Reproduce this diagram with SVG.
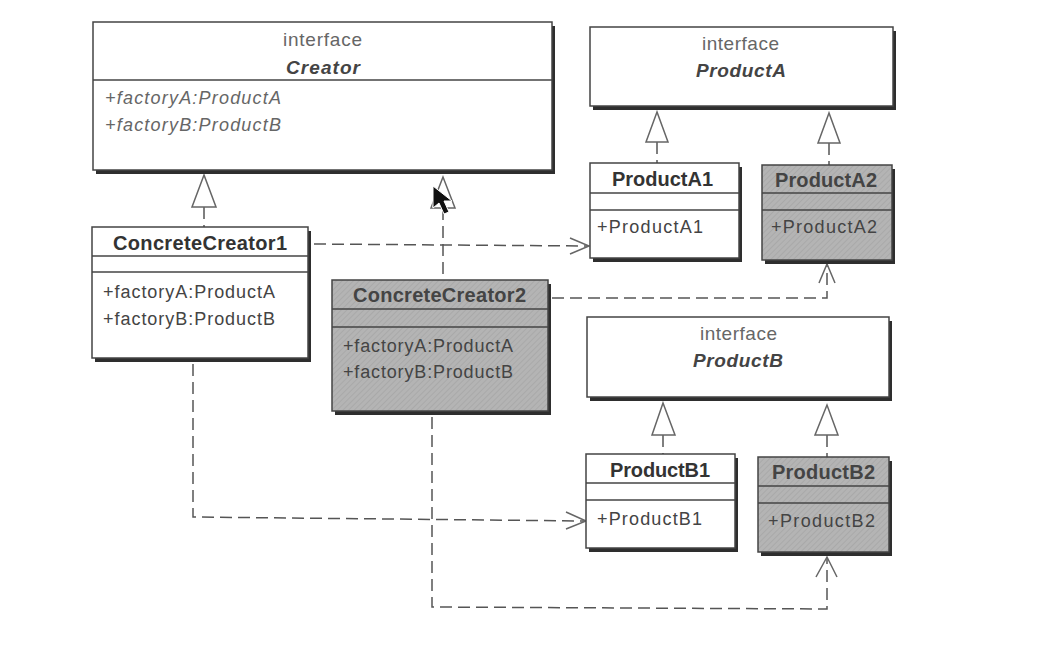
<svg xmlns="http://www.w3.org/2000/svg" width="1054" height="658" viewBox="0 0 1054 658">
<style>
.sh{fill:#2e2e2e}
.box{fill:#fff;stroke:#444;stroke-width:1.5}
.gbox{fill:url(#hatch);stroke:#444;stroke-width:1.5}
.div{stroke:#444;stroke-width:1.5}
.t{font-family:"Liberation Sans",Arial,sans-serif;fill:#3a3a3a}
.st{font-size:19px;fill:#666}
.nm{font-size:19px;font-weight:bold;font-style:italic;fill:#444}
.it{font-size:18px;font-style:italic;fill:#666}
.ti{font-size:20px;font-weight:bold;fill:#333}
.at{font-size:18px;fill:#444}
.dash{fill:none;stroke:#555;stroke-width:1.5;stroke-dasharray:12 6}
.head{fill:none;stroke:#666;stroke-width:1.5}
.tri{fill:#fff;stroke:#666;stroke-width:1.5}
</style>
<defs>
<pattern id="hatch" width="4" height="4" patternUnits="userSpaceOnUse" patternTransform="rotate(45)">
<rect width="4" height="4" fill="#b4b4b4"/>
<line x1="0" y1="0" x2="0" y2="4" stroke="#a6a6a6" stroke-width="1.5"/>
</pattern>
</defs>
<rect width="1054" height="658" fill="#fff"/>

<g id="connectors">
<line class="dash" x1="204" y1="207" x2="204" y2="227"/>
<polygon class="tri" points="204,175 192,207 216,207"/>
<line class="dash" x1="443" y1="208" x2="443" y2="280"/>
<polygon class="tri" points="443,177 431,208 455,208"/>
<line class="dash" x1="657" y1="142" x2="657" y2="163"/>
<polygon class="tri" points="657,112 646,142 668,142"/>
<line class="dash" x1="829" y1="143" x2="829" y2="165"/>
<polygon class="tri" points="829,113 818,143 840,143"/>
<line class="dash" x1="663" y1="435" x2="663" y2="454"/>
<polygon class="tri" points="663,403 652,435 675,435"/>
<line class="dash" x1="827" y1="435" x2="827" y2="457"/>
<polygon class="tri" points="827,405 815,435 838,435"/>
<path class="dash" d="M314,244 L588,246"/>
<path class="head" d="M570,238 L589,246 L570,254"/>
<path class="dash" d="M552,298 L827,298 L827,264"/>
<path class="head" d="M819,283 L827,264 L835,283"/>
<path class="dash" d="M193,364 L193,517 L585,521"/>
<path class="head" d="M566,512 L586,521 L566,529"/>
<path class="dash" d="M432,417 L432,607 L827,609 L827,558"/>
<path class="head" d="M816,577 L827,557 L837,577"/>
</g>

<g id="Creator">
<rect class="sh" x="96" y="26" width="459" height="148"/>
<rect class="box" x="93" y="22" width="459" height="148"/>
<line class="div" x1="93" y1="80" x2="552" y2="80"/>
<text class="t st" x="283" y="46" textLength="79">interface</text>
<text class="t nm" x="286" y="74" textLength="74">Creator</text>
<text class="t it" x="105" y="104" textLength="176">+factoryA:ProductA</text>
<text class="t it" x="105" y="131" textLength="176">+factoryB:ProductB</text>
</g>

<g id="ProductA">
<rect class="sh" x="593" y="31" width="303" height="79"/>
<rect class="box" x="590" y="27" width="303" height="79"/>
<text class="t st" x="702" y="50" textLength="77">interface</text>
<text class="t nm" x="696" y="77" textLength="90">ProductA</text>
</g>

<g id="ProductA1">
<rect class="sh" x="593" y="167" width="149" height="95"/>
<rect class="box" x="590" y="163" width="149" height="95"/>
<line class="div" x1="590" y1="193" x2="739" y2="193"/>
<line class="div" x1="590" y1="210" x2="739" y2="210"/>
<text class="t ti" x="612" y="186" textLength="101">ProductA1</text>
<text class="t at" x="597" y="233" textLength="106">+ProductA1</text>
</g>

<g id="ProductA2">
<rect class="sh" x="765" y="169" width="130" height="95"/>
<rect class="gbox" x="762" y="165" width="130" height="95"/>
<line class="div" x1="762" y1="193" x2="892" y2="193"/>
<line class="div" x1="762" y1="210" x2="892" y2="210"/>
<text class="t ti" x="775" y="187" textLength="102" style="fill:#444">ProductA2</text>
<text class="t at" x="771" y="233" textLength="106">+ProductA2</text>
</g>

<g id="ConcreteCreator1">
<rect class="sh" x="95" y="231" width="216" height="131"/>
<rect class="box" x="92" y="227" width="216" height="131"/>
<line class="div" x1="92" y1="256" x2="308" y2="256"/>
<line class="div" x1="92" y1="272" x2="308" y2="272"/>
<text class="t ti" x="113" y="250" textLength="174">ConcreteCreator1</text>
<text class="t at" x="103" y="298" textLength="172">+factoryA:ProductA</text>
<text class="t at" x="103" y="325" textLength="172">+factoryB:ProductB</text>
</g>

<g id="ConcreteCreator2">
<rect class="sh" x="335" y="284" width="216" height="131"/>
<rect class="gbox" x="332" y="280" width="216" height="131"/>
<line class="div" x1="332" y1="309" x2="548" y2="309"/>
<line class="div" x1="332" y1="327" x2="548" y2="327"/>
<text class="t ti" x="353" y="302" textLength="173" style="fill:#444">ConcreteCreator2</text>
<text class="t at" x="343" y="352" textLength="170">+factoryA:ProductA</text>
<text class="t at" x="343" y="378" textLength="170">+factoryB:ProductB</text>
</g>

<g id="ProductB">
<rect class="sh" x="590" y="321" width="302" height="80"/>
<rect class="box" x="587" y="317" width="302" height="80"/>
<text class="t st" x="700" y="340" textLength="77">interface</text>
<text class="t nm" x="693" y="367" textLength="90">ProductB</text>
</g>

<g id="ProductB1">
<rect class="sh" x="589" y="458" width="149" height="94"/>
<rect class="box" x="586" y="454" width="149" height="94"/>
<line class="div" x1="586" y1="483" x2="735" y2="483"/>
<line class="div" x1="586" y1="500" x2="735" y2="500"/>
<text class="t ti" x="610" y="477" textLength="100">ProductB1</text>
<text class="t at" x="597" y="525" textLength="105">+ProductB1</text>
</g>

<g id="ProductB2">
<rect class="sh" x="761" y="461" width="131" height="95"/>
<rect class="gbox" x="758" y="457" width="131" height="95"/>
<line class="div" x1="758" y1="486" x2="889" y2="486"/>
<line class="div" x1="758" y1="503" x2="889" y2="503"/>
<text class="t ti" x="772" y="479" textLength="103" style="fill:#444">ProductB2</text>
<text class="t at" x="768" y="527" textLength="107">+ProductB2</text>
</g>

<g id="cursor">
<polygon points="433,186 433,208 439,203 444,214 449,212 444,201 452,201" fill="#111" stroke="#fff" stroke-width="1"/>
</g>
</svg>
